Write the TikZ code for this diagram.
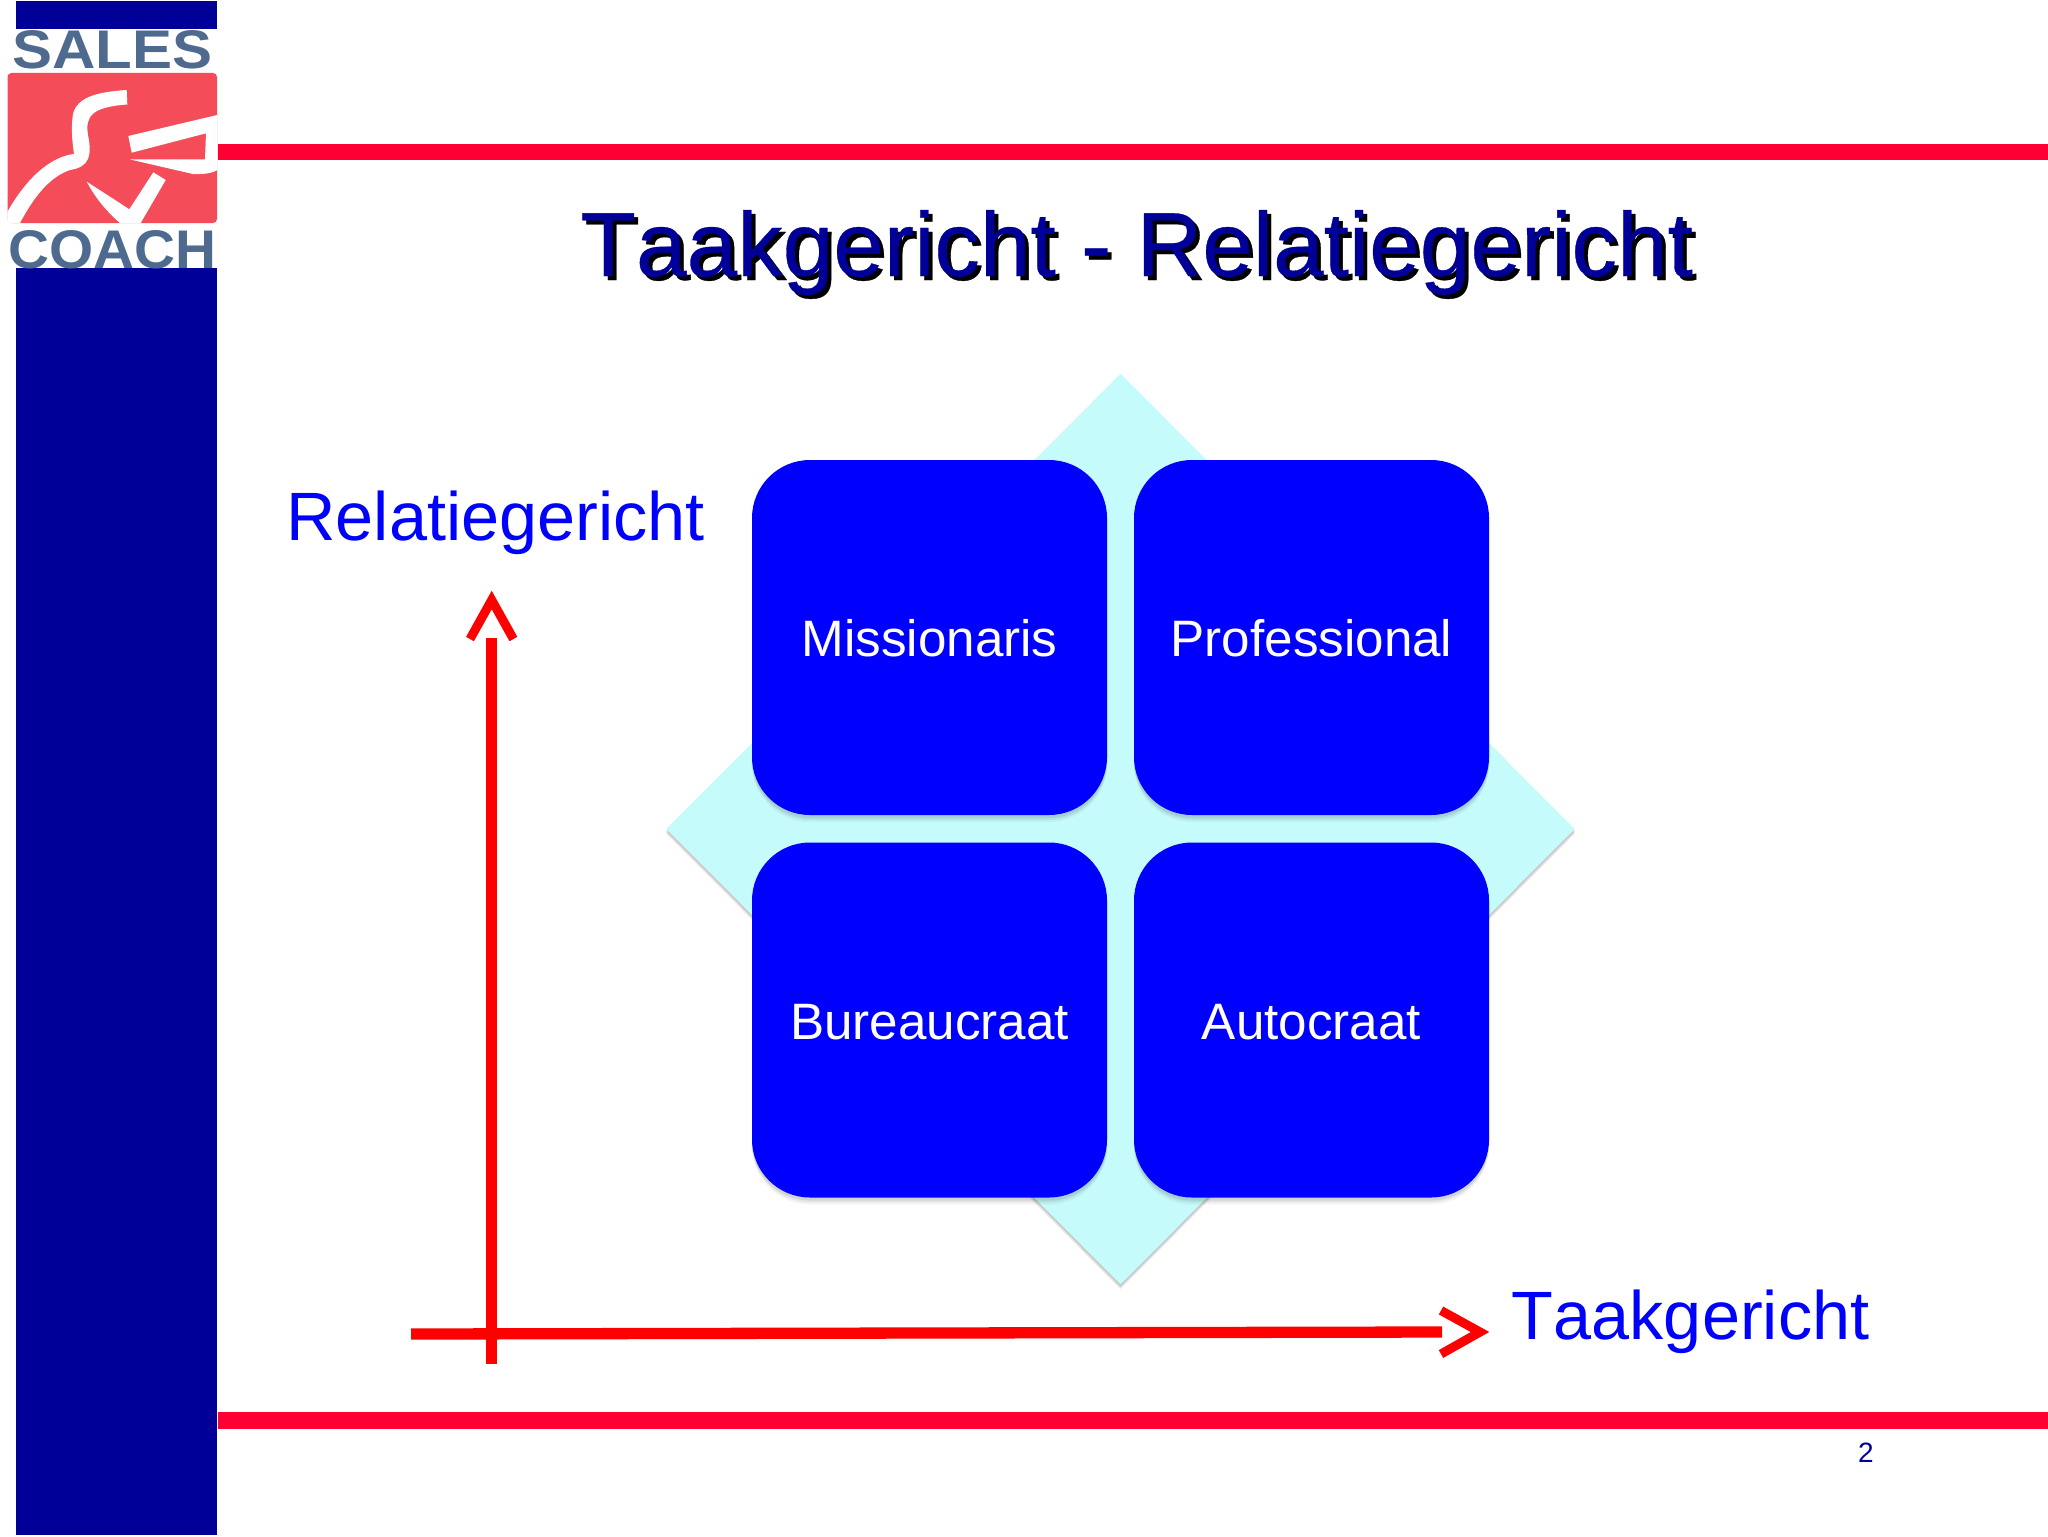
\documentclass[tikz,border=0pt]{standalone}
\usepackage{fontspec}
\usepackage{graphicx}
\setmainfont{Liberation Sans}
\usetikzlibrary{shapes.geometric}
\definecolor{navy}{HTML}{000099}
\definecolor{rule}{HTML}{FF0033}
\definecolor{slate}{HTML}{4F6A8F}
\definecolor{logored}{HTML}{F44C59}
\definecolor{pale}{HTML}{C6FBFB}
\tikzset{
  px/.style={x=0.5pt,y=-0.5pt},
  tile/.style={rectangle,rounded corners=29pt,minimum width=177.5pt,minimum height=177.5pt,inner sep=0pt,fill=blue,text=white,text height=19.4pt,text depth=0pt,font=\fontsize{25.6}{30}\selectfont\addfontfeature{Kerning=Off}},
  tileshadow/.style={rectangle,rounded corners=29pt,minimum width=177.5pt,minimum height=177.5pt,inner sep=0pt,fill=black},
  gem/.style={diamond,aspect=1,minimum width=454.5pt,minimum height=455.5pt,inner sep=0pt,fill=pale},
  axis/.style={draw=red,line width=5.65pt},
  barb/.style={draw=red,line width=4.5pt,miter limit=10},
  label/.style={inner sep=0pt,anchor=base west,text=blue,font=\fontsize{34.2}{40}\selectfont\addfontfeature{Kerning=Off}},
  heading/.style={inner sep=0pt,anchor=base west,font=\fontsize{45.5}{54}\selectfont\addfontfeature{FakeBold=0.35,Kerning=Off}},
  brand/.style={inner sep=0pt,anchor=north west,text=slate,font=\bfseries},
}
\begin{document}
\begin{tikzpicture}[px]
\useasboundingbox[fill=white] (0,0) rectangle (2048,1536);
% side bar and rules
\fill[navy] (16,1) rectangle (217,29);
\fill[navy] (16,268) rectangle (217,1535);
\fill[rule] (218,144) rectangle (2048,160);
\fill[rule] (218,1412) rectangle (2048,1429);
% logo
\fill[logored,rounded corners=2pt] (7.5,73) rectangle (217,223);
\fill[white] (126.7,90) .. controls (95,92) and (77,98) .. (73,114) .. controls (71,127) and (72,140) .. (74,154)
  .. controls (55,156) and (30,172) .. (7.3,212) -- (7.3,223) -- (20,223) .. controls (35,195) and (50,177) .. (70,170)
  .. controls (90,167) and (92,155) .. (88,135) .. controls (85,116) and (92,107) .. (127.3,104.5) -- cycle;
\fill[white] (128.3,136) -- (217.3,115) -- (217.3,170) .. controls (210,175) and (195,174) .. (193,174) -- (129.3,159.3) -- (205,159.3) -- (206,133.3) -- (131.7,152.7) -- cycle;
\fill[white] (86.7,181.7) -- (110,196.7) -- (129.3,209.3) -- (153.3,172.3) -- (165.7,180) -- (140.7,223) -- (120,223) .. controls (105,210) and (95,197) .. cycle;
\node[brand] (sales) at (12,30) {\resizebox{100pt}{19pt}{SALES}};
\node[brand] (coach) at (8,230) {\resizebox{104pt}{19pt}{COACH}};
% title
\node[heading,text=black] (titleshadow) at (584,280) {Taakgericht - Relatiegericht};
\node[heading,text=navy] (title) at (580,276) {Taakgericht - Relatiegericht};
% diamond with shadow
\foreach \o/\a in {5/0.06,3.5/0.08,2/0.1}
  \node[gem,fill=black,opacity=\a] at (1120.5,829+\o) {};
\node[gem] (gem) at (1120.5,829) {};
% tile shadows
\foreach \cx/\cy in {929.5/637.5,1311.5/637.5,929.5/1020,1311.5/1020}
  \foreach \o/\a in {7/0.04,5/0.06,3/0.08}
    \node[tileshadow,opacity=\a] at (\cx,\cy+\o) {};
\node[tile] (miss) at (929.5,637.5) {Missionaris};
\node[tile] (prof) at (1311.5,637.5) {Professional};
\node[tile] (bure) at (929.5,1020) {Bureaucraat};
\node[tile] (auto) at (1311.5,1020) {Autocraat};
% axes
\coordinate (vbot) at (491.7,1364);
\coordinate (vtop) at (491.7,638);
\coordinate (hleft) at (411,1334);
\coordinate (hright) at (1442,1332);
\draw[axis] (vbot) -- (vtop);
\draw[axis] (hleft) -- (hright);
\draw[barb] (470,639) -- (491.7,600) -- (513.4,639);
\draw[barb] (1441,1310.5) -- (1480,1332) -- (1441,1354);
% labels
\node[label] (rel) at (286,540) {Relatiegericht};
\node[label] (taak) at (1511.5,1339) {Taakgericht};
\node[inner sep=0pt,anchor=base east,text=navy,font=\fontsize{14}{16}\selectfont] (page) at (1874,1462) {2};
\end{tikzpicture}
\end{document}
